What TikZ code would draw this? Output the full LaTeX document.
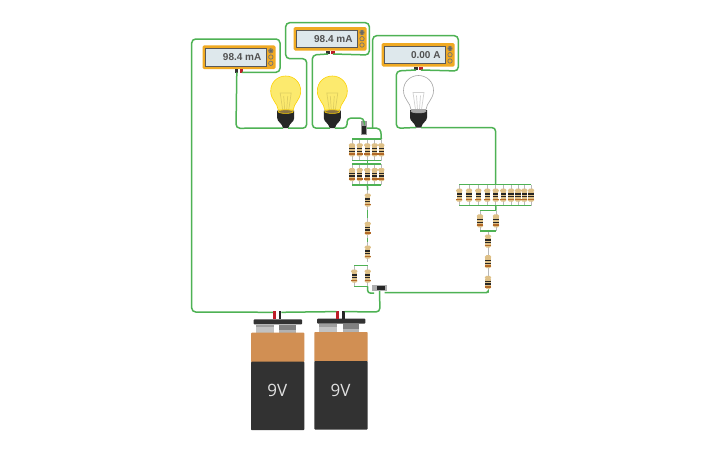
\documentclass[tikz,border=0pt]{standalone}
\usepackage{fontspec}
\setmainfont{Liberation Sans}
\newfontfamily\battfont{Open Sans}
\definecolor{wiregreen}{RGB}{78,178,84}
\definecolor{meterorange}{RGB}{240,170,35}
\definecolor{lcd}{RGB}{222,232,236}
\definecolor{resbody}{RGB}{222,192,135}
\definecolor{resbrown}{RGB}{178,105,40}
\definecolor{bulbyellow}{RGB}{252,234,110}
\definecolor{battorange}{RGB}{209,143,83}
\definecolor{battdark}{RGB}{50,50,50}
\definecolor{termred}{RGB}{190,30,40}
\tikzset{
  wire/.style={draw=wiregreen,line width=1.5pt,rounded corners=4pt},
  bus/.style={draw=wiregreen,line width=1.5pt},
  lead/.style={draw=black!28,line width=1pt},
  pics/res/.style={code={
    \draw[lead] (0,-#1) -- (0,#1);
    \fill[resbody,rounded corners=1.4pt] (-3.1,-6.5) rectangle (3.1,-2.8);
    \fill[resbody] (-2.6,-3.5) rectangle (2.6,4);
    \fill[resbody,rounded corners=1.4pt] (-3.1,3) rectangle (3.1,6.5);
    \fill[black!85] (-2.6,-1.8) rectangle (2.6,-0.5);
    \fill[black!85] (-2.6,0.9) rectangle (2.6,2.2);
    \fill[resbrown] (-3.1,3.6) rectangle (3.1,5.2);
    \coordinate (-t) at (0,-#1);
    \coordinate (-b) at (0,#1);
  }},
  pics/meter/.style={code={
    \fill[meterorange,rounded corners=1.5pt] (0,0) rectangle (73,23.7);
    \draw[fill=lcd,draw=black!65,line width=1pt] (3,3) rectangle (63.5,20.7);
    \node[anchor=east,inner sep=0pt,text=black!68,font=\bfseries\fontsize{10}{10}\selectfont] (-val) at (59,12.2) {#1};
    \foreach \ky in {5.5,11.7,18}{
      \draw[fill=meterorange,draw=black!55,line width=0.7pt] (68.3,\ky) circle (2.2);
    }
    \fill[black!60] (68.3,5.5) circle (1.8);
    \fill[black!80] (32.7,23.7) rectangle (35.9,27.2);
    \fill[termred] (37.7,23.7) rectangle (40.9,27.2);
    \coordinate (-k) at (34.3,27);
    \coordinate (-r) at (39.3,27);
  }},
  pics/bulb/.style n args={3}{code={
    \path[fill=#1,draw=#2,line width=0.6pt] (-7.5,34) .. controls (-8,27) and (-15,24) .. (-15,15)
      .. controls (-15,6) and (-8,0) .. (0,0) .. controls (8,0) and (15,6) .. (15,15)
      .. controls (15,24) and (8,27) .. (7.5,34) -- cycle;
    \draw[draw=#3,line width=0.7pt] (-3,34) -- (-5.5,17) -- (5.5,17) -- (3,34);
    \draw[draw=#3,line width=0.7pt] (-1,34) -- (-2,20) (1,34) -- (2,20);
    \fill[black!85] (-8.5,34.5) -- (8.5,34.5) -- (8.5,42) .. controls (8.5,46) and (3.5,47) .. (2.7,52)
      -- (-2.7,52) .. controls (-3.5,47) and (-8.5,46) .. (-8.5,42) -- cycle;
    \path[fill=black!75!#2,draw=#2,line width=0.6pt] (0,35.6) ellipse (7.5 and 1.8);
    \coordinate (-l) at (-2.5,52);
    \coordinate (-r) at (2.5,52);
  }},
  pics/batt/.style={code={
    \fill[black!24] (4.8,-8) rectangle (23,1);
    \fill[black!38] (4.8,-8) rectangle (23,-5.5);
    \fill[black!50] (28.3,-8) rectangle (45,-2.5);
    \fill[black!30] (28.3,-3) rectangle (45,0);
    \fill[battdark,rounded corners=0.8pt] (2.7,-13.4) rectangle (51,-8.4);
    \fill[battorange,rounded corners=0.8pt] (0,0) rectangle (53.3,29.5);
    \fill[battdark,rounded corners=0.8pt] (0,29) rectangle (53.3,97.5);
    \fill[termred] (21.9,-21.4) rectangle (24.7,-13.4);
    \fill[black!85] (27.6,-21.4) rectangle (30.4,-13.4);
    \coordinate (-r) at (22,-20.4);
    \coordinate (-k) at (30.3,-20.4);
    \node[text=black!12,inner sep=0pt,font=\battfont\fontsize{17}{17}\selectfont] (-lab) at (26.2,58) {9V};
  }},
}
\begin{document}
\begin{tikzpicture}[x=1pt,y=-1pt]
\useasboundingbox[fill=white] (0,0) rectangle (725,453);
% meters
\pic (m1) at (202.5,45.3) {meter={98.4 mA}};
\pic (m2) at (293.7,27) {meter={98.4 mA}};
\pic (m3) at (381.7,43) {meter={0.00 A}};
% bulbs
\pic (l1) at (285.7,76) {bulb={bulbyellow}{yellow!70!orange}{black!12!bulbyellow}};
\pic (l2) at (332.3,76) {bulb={bulbyellow}{yellow!70!orange}{black!12!bulbyellow}};
\pic (l3) at (418.5,75.5) {bulb={white}{black!35}{black!18}};
% batteries
\pic (bt1) at (251,332.7) {batt};
\pic (bt2) at (314.4,332) {batt};
% slide switches
\node[fill=black!40,minimum width=5.2pt,minimum height=14pt,inner sep=0pt] (sw1) at (364,128) {};
\node[fill=black!85,minimum width=3.4pt,minimum height=8pt,inner sep=0pt] (sw1s) at (364,130) {};
\node[fill=black!32,minimum width=14.5pt,minimum height=6pt,inner sep=0pt] (sw2) at (379.5,288) {};
\node[fill=black!85,minimum width=8pt,minimum height=4pt,inner sep=0pt] (sw2s) at (380.5,288) {};
% resistors
\foreach \i/\x in {1/352,2/359.7,3/367.3,4/374.7,5/381.3}{
  \pic (ra\i) at (\x,149.8) {res=10.8};
  \pic (rb\i) at (\x,174.5) {res=10.4};
}
\foreach \i/\x in {1/459.3,2/469,3/478.3,4/487.3,5/495.7,6/503.3,7/511,8/518,9/524.3,10/531}{
  \pic (rc\i) at (\x,195.2) {res=10.5};
}
\pic (rd1) at (480,220.8) {res=10.1};
\pic (rd2) at (496,220.8) {res=10.1};
\pic (re1) at (488,241) {res=10};
\pic (re2) at (488,261.7) {res=10};
\pic (re3) at (488,282.3) {res=10.4};
\pic (rf1) at (367.7,200) {res=10};
\pic (rf2) at (367.7,228.3) {res=10};
\pic (rf3) at (367.7,252) {res=10};
\pic (rg1) at (354.3,276) {res=10.4};
\pic (rg2) at (367.7,276) {res=10.4};
% junctions and corners
\coordinate (a1) at (280,72.3);
\coordinate (a2) at (280,39);
\coordinate (a3) at (191.7,39);
\coordinate (a4) at (191.7,312);
\coordinate (b1) at (236,128.3);
\coordinate (c1) at (306.7,128.3);
\coordinate (c2) at (306.7,58.7);
\coordinate (c3) at (285.7,58.7);
\coordinate (c4) at (285.7,22.7);
\coordinate (c5) at (369.3,22.7);
\coordinate (c6) at (369.3,55);
\coordinate (d1) at (312.3,55);
\coordinate (d2) at (312.3,128.3);
\coordinate (e1) at (347,128.3);
\coordinate (e2) at (347,118);
\coordinate (e3) at (364,118);
\coordinate (f2) at (380.7,128.3);
\coordinate (f3) at (381.3,139);
\coordinate (g1) at (372.7,128.3);
\coordinate (g2) at (372.7,35.7);
\coordinate (g3) at (458.3,35.7);
\coordinate (g4) at (458.3,71);
\coordinate (h1) at (396.3,71);
\coordinate (h2) at (396.3,128.3);
\coordinate (i1) at (495.7,127.5);
\coordinate (j1) at (367.3,160.6);
\coordinate (j2) at (367.3,164.1);
\coordinate (k1) at (495.7,205.7);
\coordinate (k2) at (488,231);
\coordinate (n1) at (380,312);
\coordinate (o1) at (488,292.7);
\coordinate (o2) at (384.5,292.7);
\coordinate (p1) at (367.7,293);
\coordinate (p2) at (374,293);
% wires to meters, bulbs, batteries
\draw[wire] (m1-r) -- (a1) -- (a2) -- (a3) -- (a4) -- (bt1-r);
\draw[wire] (m1-k) -- (b1) -- (l1-l);
\draw[wire] (l1-r) -- (c1) -- (c2) -- (c3) -- (c4) -- (c5) -- (c6) -- (m2-r);
\draw[wire] (m2-k) -- (d1) -- (d2) -- (l2-l);
\draw[wire] (l2-r) -- (e1) -- (e2) -- (e3) -- (sw1.north);
\draw[wire] (sw1.east) -- (f2) -- (f3);
\draw[wire] (g1) -- (g2) -- (g3) -- (g4) -- (m3-r);
\draw[wire] (m3-k) -- (h1) -- (h2) -- (l3-l);
\draw[wire] (l3-r) -- (i1) -- (rc5-t);
\draw[wire] (bt1-k) -- (bt2-r);
\draw[wire] (bt2-k) -- (n1) -- (sw2.south);
% resistor groups, left branch
\draw[bus] (ra1-t) -- (ra5-t);
\draw[bus] (ra1-b) -- (ra5-b);
\draw[bus] (rb1-t) -- (rb5-t);
\draw[bus] (rb1-b) -- (rb5-b);
\draw[bus] (j1) -- (j2);
\draw[bus] (rb3-b) -- (rf1-t);
\draw[bus] (rf1-b) -- (rf2-t);
\draw[bus] (rf2-b) -- (rf3-t);
\draw[bus] (rg1-t) -- (rg2-t);
\draw[bus] (rg1-b) -- (rg2-b);
\draw[wire,rounded corners=2.5pt] (rg2-b) -- (p1) -- (p2);
% resistor groups, right branch
\draw[bus] (rc1-t) -- (rc10-t);
\draw[bus] (rc1-b) -- (rc10-b);
\draw[bus] (k1) -- (rd2-t);
\draw[bus] (rd1-t) -- (rd2-t);
\draw[bus] (rd1-b) -- (rd2-b);
\draw[wire,rounded corners=1.5pt] (re3-b) -- (o1) -- (o2);
\draw[lead] (k2) -- (re1-t);
\draw[lead] (re1-b) -- (re2-t);
\draw[lead] (re2-b) -- (re3-t);
\end{tikzpicture}
\end{document}
